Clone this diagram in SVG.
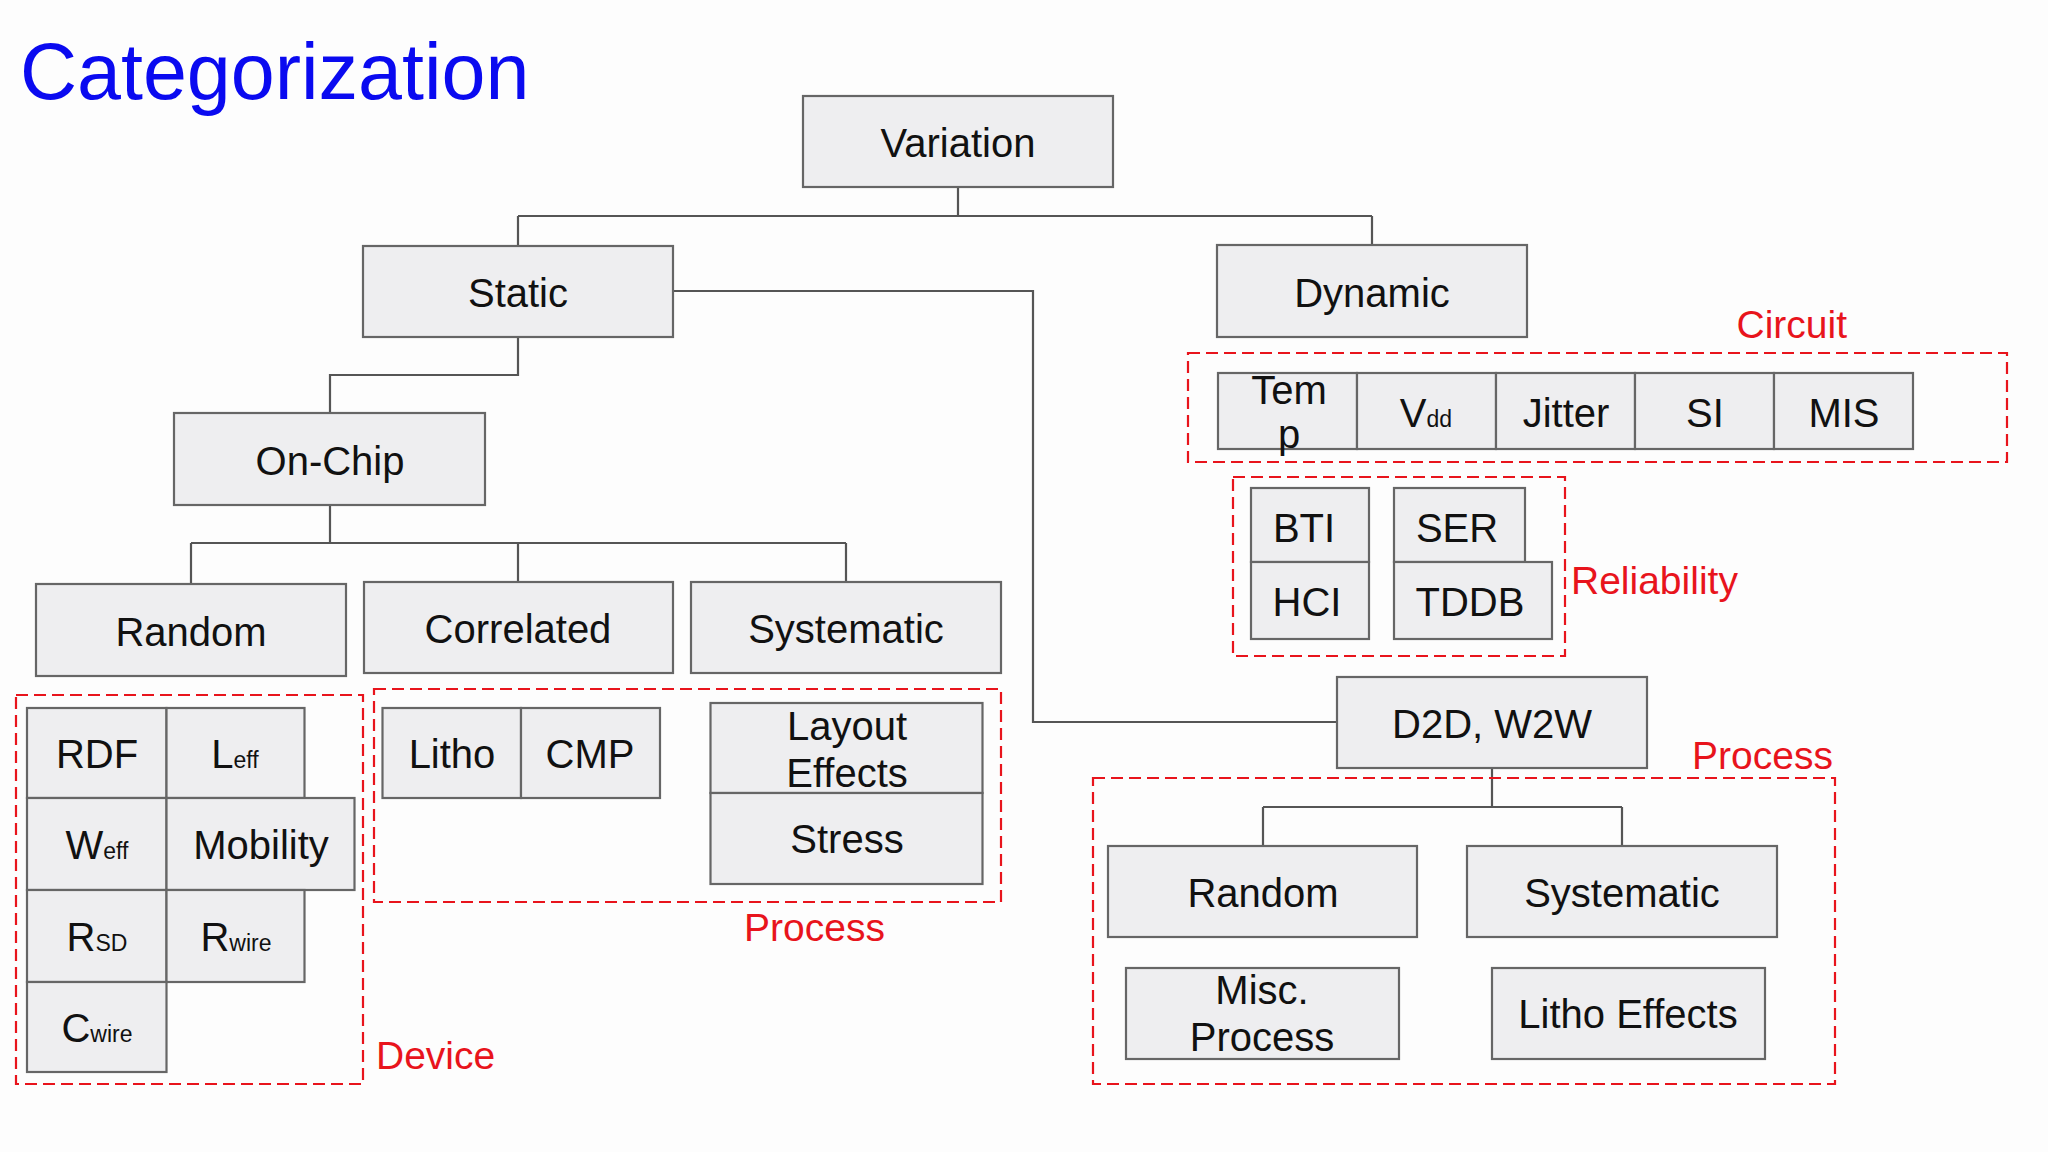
<svg xmlns="http://www.w3.org/2000/svg" width="2048" height="1152" viewBox="0 0 2048 1152">
<style>
.box{fill:#eeeef0;stroke:#666;stroke-width:2.2}
.t{font-family:"Liberation Sans",Arial,sans-serif;font-size:40px;fill:#111;text-anchor:middle}
.sub{font-size:23px}
.lbl{font-family:"Liberation Sans",Arial,sans-serif;font-size:39px;fill:#e8141c}
.dash{fill:none;stroke:#e8141c;stroke-width:2.2;stroke-dasharray:12 6}
.con{fill:none;stroke:#555;stroke-width:2.2}
</style>
<rect width="2048" height="1152" fill="#fdfdfd"/>
<text x="20" y="99" font-family="'Liberation Sans',Arial,sans-serif" font-size="79" fill="#0a0af0">Categorization</text>

<g id="connectors">
<path class="con" d="M958 187V216M518 216H1372M518 216V246M1372 216V245"/>
<path class="con" d="M518 337V375H330V413"/>
<path class="con" d="M673 291H1033V722H1337"/>
<path class="con" d="M330 505V543M191 543H846M191 543V584M518 543V582M846 543V582"/>
<path class="con" d="M1492 768V807M1263 807H1622M1263 807V846M1622 807V846"/>
</g>

<g id="groups">
<rect class="dash" x="1188" y="353" width="819" height="109"/>
<text class="lbl" x="1847" y="338" text-anchor="end">Circuit</text>
<rect class="dash" x="1233" y="477" width="332" height="179"/>
<text class="lbl" x="1571" y="594">Reliability</text>
<rect class="dash" x="16" y="695" width="347" height="389"/>
<text class="lbl" x="376" y="1069">Device</text>
<rect class="dash" x="374" y="689" width="627" height="213"/>
<text class="lbl" x="744" y="941">Process</text>
<rect class="dash" x="1093" y="778" width="742" height="306"/>
<text class="lbl" x="1833" y="769" text-anchor="end">Process</text>
</g>

<g id="variation"><rect class="box" x="803" y="96" width="310" height="91"/><text class="t" x="958" y="157">Variation</text></g>
<g id="static"><rect class="box" x="363" y="246" width="310" height="91"/><text class="t" x="518" y="307">Static</text></g>
<g id="dynamic"><rect class="box" x="1217" y="245" width="310" height="92"/><text class="t" x="1372" y="307">Dynamic</text></g>
<g id="onchip"><rect class="box" x="174" y="413" width="311" height="92"/><text class="t" x="330" y="475">On-Chip</text></g>
<g id="random"><rect class="box" x="36" y="584" width="310" height="92"/><text class="t" x="191" y="646">Random</text></g>
<g id="correlated"><rect class="box" x="364" y="582" width="309" height="91"/><text class="t" x="518" y="643">Correlated</text></g>
<g id="systematic"><rect class="box" x="691" y="582" width="310" height="91"/><text class="t" x="846" y="643">Systematic</text></g>

<g id="temp"><rect class="box" x="1218" y="373" width="139" height="76"/><text class="t" x="1289" y="404">Tem</text><text class="t" x="1289" y="448">p</text></g>
<g id="vdd"><rect class="box" x="1357" y="373" width="139" height="76"/><text class="t" x="1426" y="427">V<tspan class="sub">dd</tspan></text></g>
<g id="jitter"><rect class="box" x="1496" y="373" width="139" height="76"/><text class="t" x="1566" y="427">Jitter</text></g>
<g id="si"><rect class="box" x="1635" y="373" width="139" height="76"/><text class="t" x="1705" y="427">SI</text></g>
<g id="mis"><rect class="box" x="1774" y="373" width="139" height="76"/><text class="t" x="1844" y="427">MIS</text></g>

<g id="bti"><rect class="box" x="1251" y="488" width="118" height="74"/><text class="t" x="1304" y="542">BTI</text></g>
<g id="hci"><rect class="box" x="1251" y="562" width="118" height="77"/><text class="t" x="1307" y="616">HCI</text></g>
<g id="ser"><rect class="box" x="1394" y="488" width="131" height="74"/><text class="t" x="1457" y="542">SER</text></g>
<g id="tddb"><rect class="box" x="1394" y="562" width="158" height="77"/><text class="t" x="1470" y="616">TDDB</text></g>

<g id="rdf"><rect class="box" x="27" y="708" width="139.5" height="90"/><text class="t" x="97" y="768">RDF</text></g>
<g id="leff"><rect class="box" x="166.5" y="708" width="138" height="90"/><text class="t" x="235" y="768">L<tspan class="sub">eff</tspan></text></g>
<g id="weff"><rect class="box" x="27" y="798" width="139.5" height="92"/><text class="t" x="97" y="859">W<tspan class="sub">eff</tspan></text></g>
<g id="mobility"><rect class="box" x="166.5" y="798" width="188" height="92"/><text class="t" x="261" y="859">Mobility</text></g>
<g id="rsd"><rect class="box" x="27" y="890" width="139.5" height="92"/><text class="t" x="97" y="951">R<tspan class="sub">SD</tspan></text></g>
<g id="rwire"><rect class="box" x="166.5" y="890" width="138" height="92"/><text class="t" x="236" y="951">R<tspan class="sub">wire</tspan></text></g>
<g id="cwire"><rect class="box" x="27" y="982" width="139.5" height="90"/><text class="t" x="97" y="1042">C<tspan class="sub">wire</tspan></text></g>

<g id="litho"><rect class="box" x="382.5" y="708" width="138.5" height="90"/><text class="t" x="452" y="768">Litho</text></g>
<g id="cmp"><rect class="box" x="521" y="708" width="139" height="90"/><text class="t" x="590" y="768">CMP</text></g>
<g id="layout"><rect class="box" x="710.5" y="703" width="272" height="90"/><text class="t" x="847" y="740">Layout</text><text class="t" x="847" y="787">Effects</text></g>
<g id="stress"><rect class="box" x="710.5" y="793" width="272" height="91"/><text class="t" x="847" y="853">Stress</text></g>

<g id="d2d"><rect class="box" x="1337" y="677" width="310" height="91"/><text class="t" x="1492" y="738">D2D, W2W</text></g>
<g id="d2d-random"><rect class="box" x="1108" y="846" width="309" height="91"/><text class="t" x="1263" y="907">Random</text></g>
<g id="d2d-systematic"><rect class="box" x="1467" y="846" width="310" height="91"/><text class="t" x="1622" y="907">Systematic</text></g>
<g id="misc"><rect class="box" x="1126" y="968" width="273" height="91"/><text class="t" x="1262" y="1004">Misc.</text><text class="t" x="1262" y="1051">Process</text></g>
<g id="litho-effects"><rect class="box" x="1492" y="968" width="273" height="91"/><text class="t" x="1628" y="1028">Litho Effects</text></g>
</svg>
